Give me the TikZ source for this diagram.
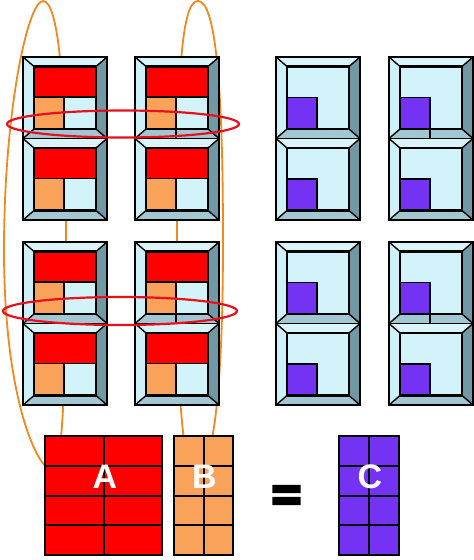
\documentclass[tikz,border=0pt]{standalone}
\usepackage{fontspec}
\setmainfont{Liberation Sans}
\newfontfamily\eqfont[FakeBold=10]{Liberation Sans}
\definecolor{facec}{RGB}{211,243,250}
\definecolor{topc}{RGB}{217,245,250}
\definecolor{leftc}{RGB}{206,240,248}
\definecolor{rightc}{RGB}{112,152,165}
\definecolor{botc}{RGB}{162,198,210}
\definecolor{redc}{RGB}{255,0,0}
\definecolor{orangec}{RGB}{249,162,90}
\definecolor{purplec}{RGB}{116,51,242}
\definecolor{ringorange}{RGB}{240,137,30}
\definecolor{ringred}{RGB}{232,16,28}
\tikzset{
  outline/.style={draw=black,line width=1.8pt,line join=miter},
  thinline/.style={draw=black,line width=1.4pt},
  innerline/.style={draw=black,line width=2.4pt},
  orangering/.style={draw=ringorange,line width=1.8pt},
  redring/.style={draw=ringred,line width=2.2pt},
  matline/.style={draw=black,line width=2pt},
  matlabel/.style={text=white,font=\bfseries\fontsize{34}{34}\selectfont,inner sep=0pt,anchor=base}
}
% #1 x, #2 y, #3 content: 1 = red/orange, 2 = purple, #4 extra line: 1 yes
\newcommand\bevbox[4]{%
\begin{scope}[shift={(#1,#2)}]
  \fill[facec] (11,9.5) rectangle (73,72);
  \fill[topc] (0,0) -- (84,0) -- (73,9.5) -- (11,9.5) -- cycle;
  \fill[leftc] (0,0) -- (11,9.5) -- (11,72) -- (0,81.5) -- cycle;
  \fill[rightc] (84,0) -- (84,81.5) -- (73,72) -- (73,9.5) -- cycle;
  \fill[botc] (0,81.5) -- (84,81.5) -- (73,72) -- (11,72) -- cycle;
  \draw[thinline] (0,0) -- (11,9.5) (84,0) -- (73,9.5) (0,81.5) -- (11,72) (84,81.5) -- (73,72);
  \ifnum#3=1
    \filldraw[fill=redc,thinline] (11,9.5) rectangle (73,40);
    \filldraw[fill=orangec,thinline] (11,40) rectangle (41,72);
  \else
    \filldraw[fill=purplec,thinline] (11,40.5) rectangle (41,72);
  \fi
  \ifnum#4=1
    \draw[thinline] (41,40) -- (41,81.5);
  \fi
  \draw[innerline] (11,9.5) rectangle (73,72);
  \draw[outline] (0,0) rectangle (84,81.5);
\end{scope}}
\begin{document}
\begin{tikzpicture}[x=1pt,y=-1pt]
\useasboundingbox (0,0) rectangle (474,560);
% orange rings (behind boxes)
\draw[orangering] (43,1) .. controls (58,1) and (66,80) .. (66,230)
  .. controls (66,400) and (62,470) .. (52,470)
  .. controls (38,470) and (4,400) .. (4,250)
  .. controls (4,110) and (28,1) .. (43,1) -- cycle;
\draw[orangering] (198,1) .. controls (215,1) and (223,80) .. (223,240)
  .. controls (223,400) and (212,470) .. (197,470)
  .. controls (182,470) and (177,400) .. (177,240)
  .. controls (177,80) and (181,1) .. (198,1) -- cycle;
% boxes
\bevbox{23}{57}{1}{0}
\bevbox{23}{138.5}{1}{0}
\bevbox{135}{57}{1}{1}
\bevbox{135}{138.5}{1}{0}
\bevbox{276}{57}{2}{0}
\bevbox{276}{138.5}{2}{0}
\bevbox{389}{57}{2}{1}
\bevbox{389}{138.5}{2}{0}
\bevbox{23}{242}{1}{0}
\bevbox{23}{323.5}{1}{0}
\bevbox{135}{242}{1}{1}
\bevbox{135}{323.5}{1}{0}
\bevbox{276}{242}{2}{0}
\bevbox{276}{323.5}{2}{0}
\bevbox{389}{242}{2}{1}
\bevbox{389}{323.5}{2}{0}
% red rings
\draw[redring] (123,124) ellipse [x radius=116, y radius=13.5];
\draw[redring] (120,311) ellipse [x radius=117, y radius=14];
% matrices
\filldraw[fill=redc,matline] (45,436) rectangle (162,555);
\draw[matline] (103.5,436) -- (103.5,555) (45,466) -- (162,466) (45,495.5) -- (162,495.5) (45,525) -- (162,525);
\filldraw[fill=orangec,matline] (174,436) rectangle (233,555);
\draw[matline] (203.5,436) -- (203.5,555) (174,466) -- (233,466) (174,495.5) -- (233,495.5) (174,525) -- (233,525);
\filldraw[fill=purplec,matline] (339,436) rectangle (399,555);
\draw[matline] (369,436) -- (369,555) (339,466) -- (399,466) (339,495.5) -- (399,495.5) (339,525) -- (399,525);
\node[matlabel] (labA) at (105,488) {A};
\node[matlabel] (labB) at (204.5,488) {B};
\node[matlabel] (labC) at (370,488) {C};
\node[inner sep=0pt,font=\eqfont\fontsize{48}{48}\selectfont] (eq) at (286.5,499) {=};
\end{tikzpicture}
\end{document}
